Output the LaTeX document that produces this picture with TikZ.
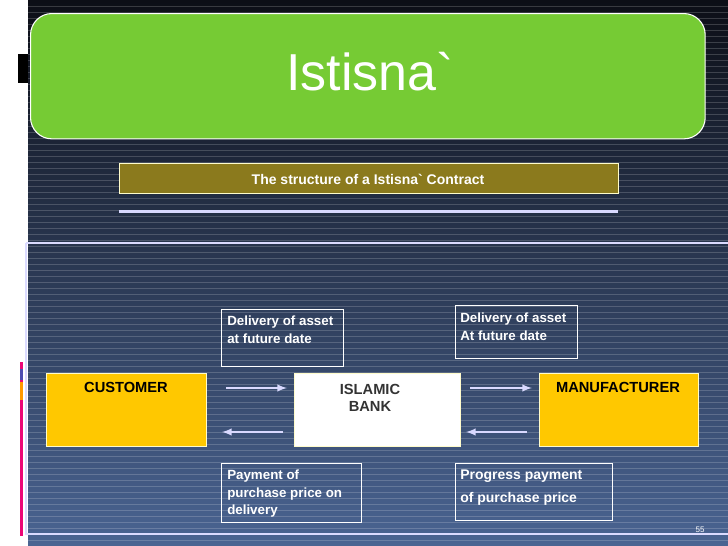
\documentclass[tikz,border=0pt]{standalone}
\usepackage{fontspec}
\setmainfont{Liberation Sans}
\newfontfamily\plainf{Liberation Sans}
\definecolor{gold}{RGB}{255,200,0}
\definecolor{grn}{RGB}{118,203,52}
\definecolor{olive2}{RGB}{139,122,29}
\definecolor{bgbot}{RGB}{74,100,146}
\definecolor{bgtop}{RGB}{12,14,22}
\newcommand{\bq}{{\plainf\char96\relax}}
\begin{document}
\begin{tikzpicture}[x=0.75pt,y=-0.75pt,
  ent/.style={draw=white!80!yellow,line width=0.6pt,fill=#1,minimum height=55pt,anchor=north west,inner sep=0pt},
  lbl/.style={draw=white,line width=0.6pt,anchor=north west,inner sep=0pt},
  lt/.style={text=white,font=\bfseries\fontsize{10}{13}\selectfont,align=left,anchor=north west,inner sep=0pt},
  arr/.style={draw=white!85!blue,line width=1.5pt,-{latex}}]
\useasboundingbox (0,0) rectangle (728,546);
\shade[top color=bgtop, bottom color=bgbot] (28,0) rectangle (728,546);
\foreach \y in {6,12,...,546} \draw[white,opacity=0.18,line width=0.4pt] (28,\y) -- (728,\y);
\fill[white] (0,0) rectangle (28,546);
\fill[black] (18,54) rectangle (28,83);
\draw[white!80!blue!70,line width=1pt] (26,243) -- (728,243) (26,243) -- (26,534) -- (728,534);
\fill[magenta!80!red] (20,362) rectangle (23,536);
\fill[gray!60!blue] (20,369) rectangle (23,380);
\fill[orange!80!yellow] (20,382) rectangle (23,400);
\node[draw=white,line width=0.8pt,fill=grn,rounded corners=16pt,minimum width=506pt,minimum height=94pt,anchor=north west] (title) at (30,13) {};
\node[text=white,font=\fontsize{39}{44}\selectfont] at (370,72) {Istisna\bq};
\node[draw=white!80!yellow,line width=0.6pt,fill=olive2,minimum width=374pt,minimum height=22.5pt,anchor=north west,inner sep=0pt] (sub) at (119,163) {};
\node[text=white,font=\bfseries\fontsize{10.5}{12}\selectfont] at (368,179) {The structure of a Istisna{\bfseries\bq} Contract};
\fill[white!85!blue] (119,209.5) rectangle (618,213);
\node[ent=gold,minimum width=120pt] (cust) at (46,373) {};
\node[ent=white,minimum width=124.5pt] (bank) at (294,373) {};
\node[ent=gold,minimum width=119pt] (man) at (539,373) {};
\node[font=\bfseries\fontsize{11}{13}\selectfont,text=black] at (126,387) {CUSTOMER};
\node[font=\bfseries\fontsize{11}{13}\selectfont,text=black!80,align=center] at (370,398) {ISLAMIC\\ BANK};
\node[font=\bfseries\fontsize{11}{13}\selectfont,text=black] at (618,387) {MANUFACTURER};
\node[lbl,minimum width=91.5pt,minimum height=43pt] (l1) at (221,309) {};
\node[lt] at (227,316) {Delivery of asset\\at future date};
\node[lbl,minimum width=91.5pt,minimum height=40pt] (l2) at (455,305) {};
\node[lt] at (460,313) {Delivery of asset\\At future date};
\node[lbl,minimum width=105pt,minimum height=44pt] (l3) at (221,463) {};
\node[lt] at (227,470) {Payment of\\purchase price on\\delivery};
\node[lbl,minimum width=117.5pt,minimum height=43pt] (l4) at (455,463) {};
\node[lt,font=\bfseries\fontsize{10.5}{17}\selectfont] at (460,470) {Progress payment\\of purchase price};
\coordinate (a1) at (226,388); \coordinate (a2) at (287,388);
\coordinate (b1) at (283,432); \coordinate (b2) at (222,432);
\coordinate (c1) at (470,388); \coordinate (c2) at (532,388);
\coordinate (d1) at (527,432); \coordinate (d2) at (466,432);
\draw[arr] (a1) -- (a2); \draw[arr] (b1) -- (b2);
\draw[arr] (c1) -- (c2); \draw[arr] (d1) -- (d2);
\node[text=white!70,font=\fontsize{6}{7}\selectfont] at (700,530) {55};
\end{tikzpicture}
\end{document}
